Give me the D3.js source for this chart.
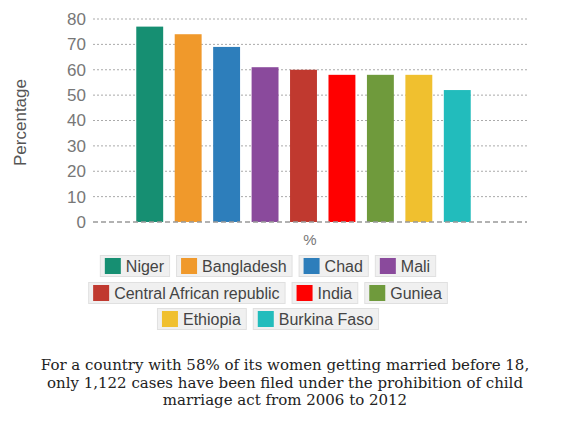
<!DOCTYPE html>
<html>
<head>
<meta charset="utf-8">
<script src="https://cdn.jsdelivr.net/npm/d3@7"></script>
<style>
  body { margin: 0; background: #fff; }
  svg { display: block; }
</style>
</head>
<body>
<svg id="chart" width="576" height="423"></svg>
<script>
// data
const countries = ["Niger", "Bangladesh", "Chad", "Mali", "Central African republic", "India", "Guniea", "Ethiopia", "Burkina Faso"];
const values = [77, 74, 69, 61, 60, 58, 58, 58, 52];
const colors = ["#168f72", "#f0992b", "#2d7ebb", "#8a4a9c", "#c0392f", "#ff0000", "#6f9a3c", "#f0c02f", "#22bcbc"];
const yTicks = [0, 10, 20, 30, 40, 50, 60, 70, 80];
const caption = [
  "For a country with 58% of its women getting married before 18,",
  "only 1,122 cases have been filed under the prohibition of child",
  "marriage act from 2006 to 2012"
];

const svg = d3.select("#chart");
const plot = { left: 93, right: 527, top: 19, bottom: 222 };

const y = d3.scaleLinear().domain([0, 80]).range([plot.bottom, plot.top]);
const x = d3.scaleBand()
  .domain(countries)
  .range([130.5, 476.5])
  .paddingInner(0.3)
  .paddingOuter(0.15);

// grid
svg.append("g")
  .selectAll("line")
  .data(yTicks.filter(d => d > 0))
  .join("line")
  .attr("x1", plot.left).attr("x2", plot.right)
  .attr("y1", d => y(d)).attr("y2", d => y(d))
  .attr("stroke", "#aaa")
  .attr("stroke-width", 1)
  .attr("stroke-dasharray", "2,2");

// y axis labels
const yAxis = d3.axisLeft(y).tickValues(yTicks).tickSize(0).tickPadding(7);
const ya = svg.append("g")
  .attr("transform", `translate(${plot.left},0)`)
  .call(yAxis);
ya.select(".domain").remove();
ya.selectAll("text")
  .attr("font-family", "Liberation Sans, Arial, sans-serif")
  .attr("font-size", 17)
  .attr("fill", "#777");

svg.append("text")
  .attr("transform", `translate(26,${(plot.top + plot.bottom) / 2 + 2}) rotate(-90)`)
  .attr("text-anchor", "middle")
  .attr("font-family", "Liberation Sans, Arial, sans-serif")
  .attr("font-size", 17)
  .attr("fill", "#555")
  .text("Percentage");

// bars
svg.append("g")
  .selectAll("rect")
  .data(countries)
  .join("rect")
  .attr("x", d => x(d))
  .attr("width", x.bandwidth())
  .attr("y", (d, i) => y(values[i]))
  .attr("height", (d, i) => y(0) - y(values[i]))
  .attr("fill", (d, i) => colors[i]);

// baseline
svg.append("line")
  .attr("x1", plot.left).attr("x2", plot.right)
  .attr("y1", y(0)).attr("y2", y(0))
  .attr("stroke", "#999")
  .attr("stroke-width", 1.5)
  .attr("stroke-dasharray", "5,3");

svg.append("text")
  .attr("x", (plot.left + plot.right) / 2)
  .attr("y", 245)
  .attr("text-anchor", "middle")
  .attr("font-family", "Liberation Sans, Arial, sans-serif")
  .attr("font-size", 15)
  .attr("fill", "#777")
  .text("%");

// legend
const legend = svg.append("g");
const items = countries.map((c, i) => {
  const g = legend.append("g");
  const t = g.append("text")
    .attr("x", 26).attr("y", 16.5)
    .attr("font-family", "Liberation Sans, Arial, sans-serif")
    .attr("font-size", 16)
    .attr("fill", "#444")
    .text(c);
  const w = t.node().getComputedTextLength() + 32;
  g.insert("rect", "text")
    .attr("x", 0.5).attr("y", 0.5)
    .attr("width", w - 1).attr("height", 21)
    .attr("fill", "#f0f0f0")
    .attr("stroke", "#e0e0e0");
  g.insert("rect", "text")
    .attr("x", 5).attr("y", 3)
    .attr("width", 16).attr("height", 16)
    .attr("fill", colors[i]);
  return { g, w };
});

const maxW = 372, gap = 6, legendCx = 268, rowY = [255, 282, 308];
let rows = [[]], rw = 0;
items.forEach(it => {
  const add = (rows[rows.length - 1].length ? gap : 0) + it.w;
  if (rw + add > maxW) { rows.push([it]); rw = it.w; }
  else { rows[rows.length - 1].push(it); rw += add; }
});
rows.forEach((row, r) => {
  const total = d3.sum(row, d => d.w) + gap * (row.length - 1);
  let cx = legendCx - total / 2;
  row.forEach(it => {
    it.g.attr("transform", `translate(${cx},${rowY[r]})`);
    cx += it.w + gap;
  });
});

// caption
svg.append("g")
  .selectAll("text")
  .data(caption)
  .join("text")
  .attr("x", 285)
  .attr("y", (d, i) => 370 + i * 17.5)
  .attr("text-anchor", "middle")
  .attr("font-family", "DejaVu Serif, serif")
  .attr("font-size", 15)
  .attr("fill", "#222")
  .text(d => d);
</script>
</body>
</html>
